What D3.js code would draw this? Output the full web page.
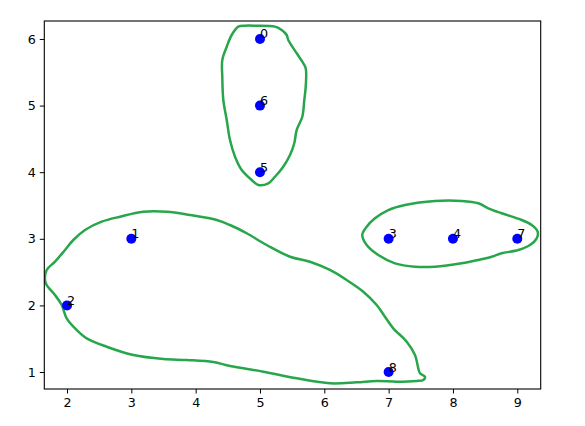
<!DOCTYPE html>
<html>
<head>
<meta charset="utf-8">
<script src="https://cdn.jsdelivr.net/npm/d3@7"></script>
<style>
  html, body { margin: 0; padding: 0; background: #fff; }
  svg { display: block; }
</style>
</head>
<body>
<svg id="chart" width="585" height="426"></svg>
<script>
// Data
const pointX = [5, 3, 2, 7, 8, 5, 5, 9, 7];
const pointY = [6, 3, 2, 3, 3, 4, 5, 3, 1];
const pointLabels = ["0", "1", "2", "3", "4", "5", "6", "7", "8"];
const xTicks = [2, 3, 4, 5, 6, 7, 8, 9];
const yTicks = [1, 2, 3, 4, 5, 6];

const contourTop = [
  [4.663, 6.185], [4.767, 6.200], [4.922, 6.200], [5.233, 6.185], [5.337, 6.135],
  [5.415, 6.060], [5.440, 5.985], [5.571, 5.785], [5.658, 5.659], [5.711, 5.560],
  [5.711, 5.284], [5.689, 5.084], [5.658, 4.833], [5.571, 4.634], [5.533, 4.434],
  [5.467, 4.258], [5.362, 4.083], [5.233, 3.932], [5.129, 3.833], [4.974, 3.808],
  [4.871, 3.883], [4.716, 4.033], [4.612, 4.233], [4.534, 4.483], [4.483, 4.784],
  [4.430, 5.084], [4.414, 5.434], [4.414, 5.685], [4.483, 5.884], [4.560, 6.060]
];
const contourRight = [
  [6.590, 3.057], [6.659, 3.182], [6.788, 3.308], [6.995, 3.432], [7.254, 3.508],
  [7.721, 3.568], [8.136, 3.568], [8.394, 3.533], [8.549, 3.458], [8.757, 3.383],
  [9.068, 3.282], [9.224, 3.207], [9.317, 3.107], [9.302, 3.007], [9.197, 2.907],
  [9.015, 2.832], [8.757, 2.782], [8.602, 2.731], [8.394, 2.682], [8.136, 2.632],
  [7.721, 2.581], [7.410, 2.581], [7.099, 2.632], [6.839, 2.757], [6.659, 2.907]
];
const contourBig = [
  [1.658, 2.381], [1.684, 2.532], [1.813, 2.656], [1.969, 2.832], [2.098, 2.982],
  [2.280, 3.132], [2.539, 3.257], [2.824, 3.332], [3.186, 3.407], [3.550, 3.407],
  [3.912, 3.357], [4.327, 3.282], [4.534, 3.207], [4.793, 3.083], [5.104, 2.907],
  [5.467, 2.731], [5.777, 2.656], [6.088, 2.532], [6.348, 2.381], [6.606, 2.206],
  [6.814, 2.006], [6.943, 1.830], [7.072, 1.656], [7.281, 1.455], [7.410, 1.255],
  [7.461, 1.056], [7.487, 0.980], [7.565, 0.929], [7.539, 0.880], [7.436, 0.865],
  [7.125, 0.854], [6.814, 0.865], [6.503, 0.845], [6.088, 0.830], [5.571, 0.905],
  [5.051, 1.005], [4.534, 1.090], [4.274, 1.150], [3.861, 1.180],
  [3.497, 1.195], [3.031, 1.255], [2.617, 1.380], [2.306, 1.506], [2.151, 1.631],
  [1.995, 1.806], [1.918, 2.006], [1.813, 2.156], [1.684, 2.306]
];
const contours = [contourTop, contourRight, contourBig];

// Layout
const svg = d3.select("#chart");
const mLeft = 44.3, mRight = 540.7, mTop = 21, mBottom = 389;
const x = d3.scaleLinear().domain([1.647, 9.364]).range([mLeft, mRight]);
const y = d3.scaleLinear().domain([0.745, 6.27]).range([mBottom, mTop]);

const font = "'DejaVu Sans', sans-serif";

// Contours
const line = d3.line()
  .x(d => x(d[0]))
  .y(d => y(d[1]))
  .curve(d3.curveCatmullRomClosed.alpha(0.5));

const clipId = "plotclip";
svg.append("clipPath").attr("id", clipId)
  .append("rect").attr("x", mLeft).attr("y", mTop)
  .attr("width", mRight - mLeft).attr("height", mBottom - mTop);

const plot = svg.append("g").attr("clip-path", `url(#${clipId})`);

plot.selectAll("path.contour")
  .data(contours)
  .join("path")
  .attr("class", "contour")
  .attr("d", line)
  .attr("fill", "none")
  .attr("stroke", "#27a64b")
  .attr("stroke-width", 2.5)
  .attr("stroke-linejoin", "round");

// Points
const idx = d3.range(pointX.length);
svg.append("g").selectAll("circle")
  .data(idx)
  .join("circle")
  .attr("cx", i => x(pointX[i]))
  .attr("cy", i => y(pointY[i]))
  .attr("r", 5)
  .attr("fill", "#0000ff");

// Labels
svg.append("g").selectAll("text")
  .data(idx)
  .join("text")
  .attr("x", i => x(pointX[i]))
  .attr("y", i => y(pointY[i]))
  .attr("dy", "-0.5")
  .attr("font-family", font)
  .attr("font-size", 12.7)
  .attr("fill", "#000")
  .text(i => pointLabels[i]);

// Axes
const xAxis = d3.axisBottom(x).tickValues(xTicks).tickSize(4.5).tickPadding(4).tickFormat(d3.format("d"));
const yAxis = d3.axisLeft(y).tickValues(yTicks).tickSize(4.5).tickPadding(4).tickFormat(d3.format("d"));

const gx = svg.append("g").attr("transform", `translate(0,${mBottom})`).call(xAxis);
const gy = svg.append("g").attr("transform", `translate(${mLeft},0)`).call(yAxis);
[gx, gy].forEach(g => {
  g.select(".domain").remove();
  g.selectAll("line").attr("stroke", "#000").attr("stroke-width", 1);
  g.selectAll("text").attr("font-family", font).attr("font-size", 12.7).attr("fill", "#000");
});

// Frame
svg.append("rect")
  .attr("x", mLeft).attr("y", mTop)
  .attr("width", mRight - mLeft).attr("height", mBottom - mTop)
  .attr("fill", "none").attr("stroke", "#000").attr("stroke-width", 1.1);
</script>
</body>
</html>
